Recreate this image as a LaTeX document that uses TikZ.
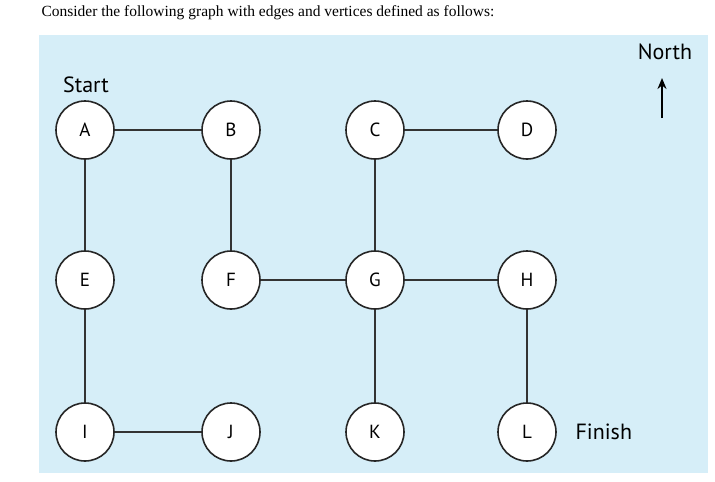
\documentclass[tikz,border=0pt]{standalone}
\usepackage{fontspec}
\usetikzlibrary{arrows.meta}
\setmainfont{Liberation Serif}
\newfontfamily\lab{PT Sans}
\begin{document}
\begin{tikzpicture}[x=1pt,y=-1pt,
  vtx/.style={circle,draw=black!85,line width=1.6pt,fill=white,minimum size=58pt,inner sep=0pt,font=\lab\fontsize{19}{21}\selectfont},
  edge/.style={draw=black!80,line width=1.6pt}]
\useasboundingbox (0,0) rectangle (715,482);
\fill[fill={rgb,255:red,214;green,238;blue,248}] (39,35) rectangle (708,473);
\node[anchor=west,font=\fontsize{15.5}{17}\selectfont] (title) at (38,13) {Consider the following graph with edges and vertices defined as follows:};
\foreach \n/\x/\y in {A/85/130,B/231/130,C/375/130,D/527/130,E/85/280,F/231/280,G/375/280,H/527/280,I/85/432,J/231/432,K/375/432,L/527/432}
  \coordinate (p\n) at (\x,\y);
\foreach \a/\b in {A/B,A/E,B/F,C/D,C/G,F/G,G/H,G/K,E/I,I/J,H/L}
  \draw[edge] (p\a) -- (p\b);
\foreach \n in {A,B,C,D,E,F,G,H,I,J,K,L}
  \node[vtx] (\n) at (p\n) {\n};
\node[font=\lab\fontsize{22}{24}\selectfont] (start) at (86,85) {Start};
\node[font=\lab\fontsize{22}{24}\selectfont,anchor=west] (fin) at (572,432) {Finish};
\node[font=\lab\fontsize{22}{24}\selectfont] (north) at (665,52) {North};
\coordinate (nb) at (662,118);
\coordinate (nt) at (662,78);
\draw[line width=1.8pt,-{Stealth[length=11pt,width=9pt]}] (nb) -- (nt);
\end{tikzpicture}
\end{document}
